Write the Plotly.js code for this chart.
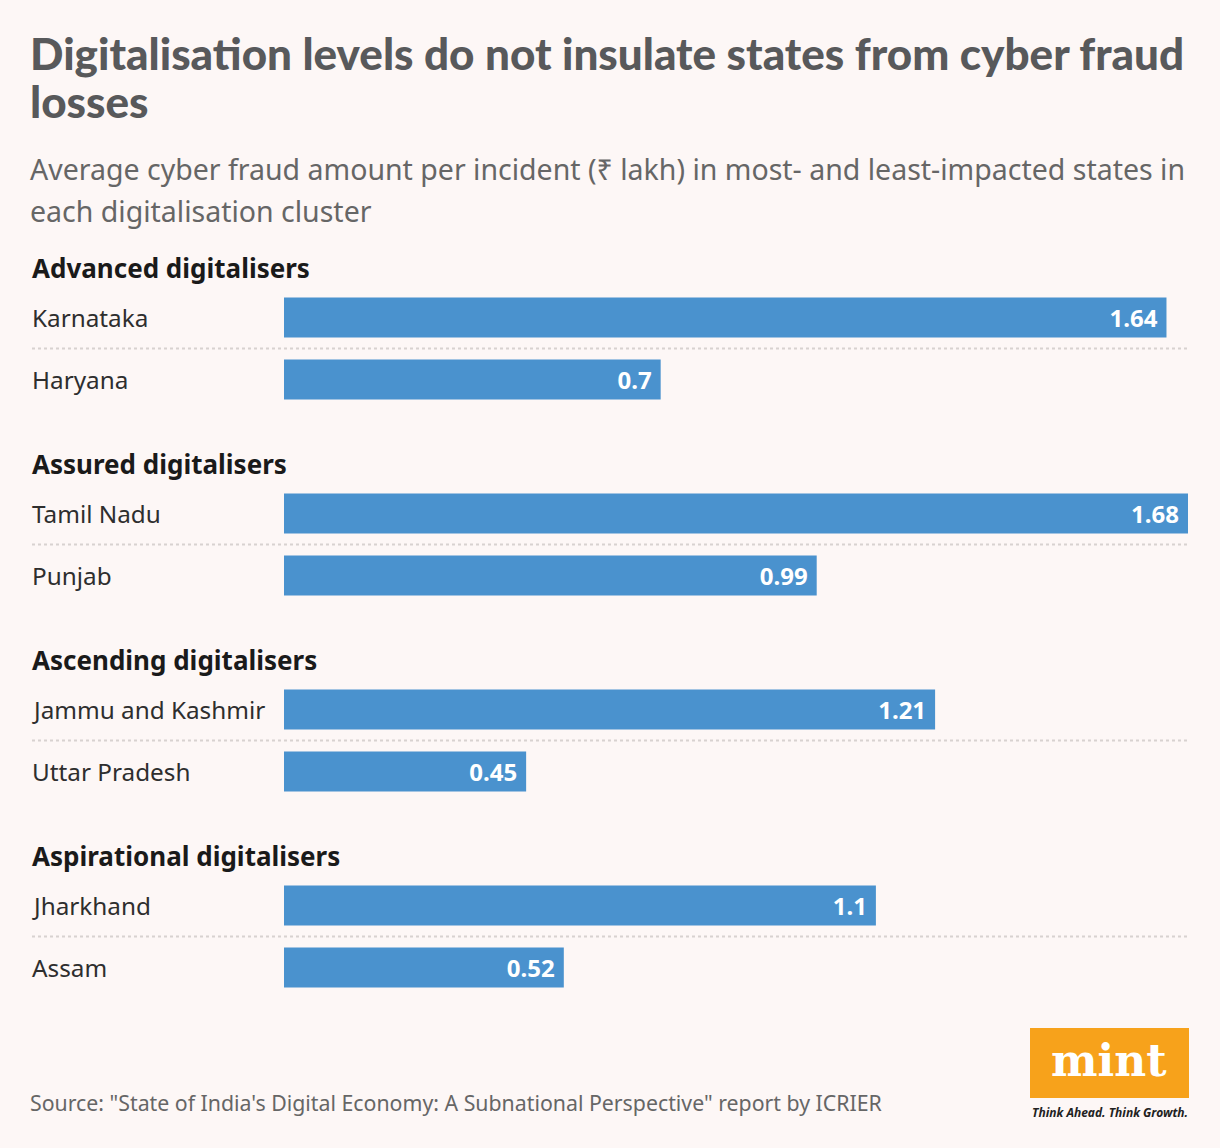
<!DOCTYPE html>
<html>
<head>
<meta charset="utf-8">
<script src="https://cdn.plot.ly/plotly-3.0.1.min.js"></script>
<style>
  html, body { margin: 0; padding: 0; background: #fdf7f6; }
  #chart { width: 1220px; height: 1148px; }
</style>
</head>
<body>
<div id="chart"></div>
<script>
// ---- data ----
const groups = ['Advanced digitalisers', 'Assured digitalisers', 'Ascending digitalisers', 'Aspirational digitalisers'];
const states = ['Karnataka', 'Haryana', 'Tamil Nadu', 'Punjab', 'Jammu and Kashmir', 'Uttar Pradesh', 'Jharkhand', 'Assam'];
const values = [1.64, 0.7, 1.68, 0.99, 1.21, 0.45, 1.1, 0.52];
const stateGroup = [0, 0, 1, 1, 2, 2, 3, 3];
const valueLabels = ['1.64', '0.7', '1.68', '0.99', '1.21', '0.45', '1.1', '0.52'];

const titleLines = ['Digitalisation levels do not insulate states from cyber fraud', 'losses'];
const subtitleLines = ['Average cyber fraud amount per incident (₹ lakh) in most- and least-impacted states in', 'each digitalisation cluster'];
const sourceText = 'Source: "State of India\'s Digital Economy: A Subnational Perspective" report by ICRIER';

// ---- layout constants ----
const W = 1220, H = 1148;
const BG = '#fdf7f6';
const BAR = '#4a92ce';
const px = x => x / W;
const py = y => 1 - y / H;

const firstTop = 286.5, groupStep = 196, groupH = 124;

const traces = [];
const annotations = [];
const shapes = [];
const layout = {
  width: W, height: H,
  paper_bgcolor: BG, plot_bgcolor: BG,
  margin: {l: 0, r: 0, t: 0, b: 0, pad: 0},
  showlegend: false,
  bargap: 0.355,
  font: {family: 'Noto Sans, sans-serif', color: '#333'},
  xaxis: {domain: [px(284), px(1188)], range: [0, Math.max(...values)], visible: false, fixedrange: true}
};

groups.forEach((g, gi) => {
  const yname = gi === 0 ? 'y' : 'y' + (gi + 1);
  const axKey = gi === 0 ? 'yaxis' : 'yaxis' + (gi + 1);
  const top = firstTop + gi * groupStep;
  const idx = stateGroup.map((s, i) => s === gi ? i : -1).filter(i => i >= 0);
  const ys = idx.map(i => states[i]);
  layout[axKey] = {
    domain: [py(top + groupH), py(top)],
    type: 'category',
    categoryorder: 'array', categoryarray: ys,
    range: [ys.length - 0.5, -0.5],
    visible: false, fixedrange: true,
    anchor: 'x'
  };
  traces.push({
    type: 'bar', orientation: 'h',
    x: idx.map(i => values[i]),
    y: ys,
    xaxis: 'x', yaxis: yname,
    marker: {color: BAR},
    text: idx.map(i => valueLabels[i]),
    texttemplate: '%{text}\u2005',
    textposition: 'inside',
    insidetextanchor: 'end',
    textangle: 0,
    constraintext: 'none',
    textfont: {family: 'Noto Sans, sans-serif', size: 24, weight: 700, color: '#ffffff'},
    hoverinfo: 'skip'
  });
  // group header
  annotations.push({
    text: g, xref: 'paper', yref: 'paper',
    x: px(30), y: py(268 + gi * groupStep), xanchor: 'left', yanchor: 'middle',
    showarrow: false,
    font: {family: 'Noto Sans, sans-serif', size: 26, weight: 700, color: '#1a1a1a'}
  });
  // state labels
  ys.forEach(s => {
    annotations.push({
      text: s, xref: 'paper', yref: yname,
      x: px(30), y: s, xanchor: 'left', yanchor: 'middle',
      showarrow: false,
      font: {family: 'Noto Sans, sans-serif', size: 24.3, color: '#2e2e2e'}
    });
  });
  // dotted separator between the two rows
  shapes.push({
    type: 'line', xref: 'paper', yref: yname,
    x0: px(32), x1: px(1188), y0: 0.5, y1: 0.5,
    line: {color: '#d8d2d0', width: 2, dash: 'dot'}
  });
});

// title
titleLines.forEach((t, i) => {
  annotations.push({
    text: t, xref: 'paper', yref: 'paper',
    x: px(28), y: py(53 + i * 48), xanchor: 'left', yanchor: 'middle',
    showarrow: false,
    font: {family: 'Lato, sans-serif', size: 44, weight: 900, color: '#58595b'}
  });
});

// subtitle
subtitleLines.forEach((t, i) => {
  annotations.push({
    text: t, xref: 'paper', yref: 'paper',
    x: px(28), y: py(169 + i * 42), xanchor: 'left', yanchor: 'middle',
    showarrow: false,
    font: {family: 'Noto Sans, sans-serif', size: 28.5, color: '#666666'}
  });
});

// source
annotations.push({
  text: sourceText, xref: 'paper', yref: 'paper',
  x: px(28), y: py(1102), xanchor: 'left', yanchor: 'middle',
  showarrow: false,
  font: {family: 'Noto Sans, sans-serif', size: 21.3, color: '#666666'}
});

// mint logo
shapes.push({
  type: 'rect', xref: 'paper', yref: 'paper',
  x0: px(1030), x1: px(1189), y0: py(1098), y1: py(1028),
  fillcolor: '#f7a21b', line: {width: 0}
});
annotations.push({
  text: '<b>mint</b>', xref: 'paper', yref: 'paper',
  x: px(1109), y: py(1060), xanchor: 'center', yanchor: 'middle',
  showarrow: false,
  font: {family: 'DejaVu Serif, serif', size: 44, color: '#ffffff'}
});
annotations.push({
  text: '<b><i>Think Ahead. Think Growth.</i></b>', xref: 'paper', yref: 'paper',
  x: px(1110), y: py(1112), xanchor: 'center', yanchor: 'middle',
  showarrow: false,
  font: {family: 'Noto Sans, sans-serif', size: 12, color: '#222222'}
});

layout.annotations = annotations;
layout.shapes = shapes;

Plotly.newPlot('chart', traces, layout, {displayModeBar: false, staticPlot: true});
</script>
</body>
</html>
